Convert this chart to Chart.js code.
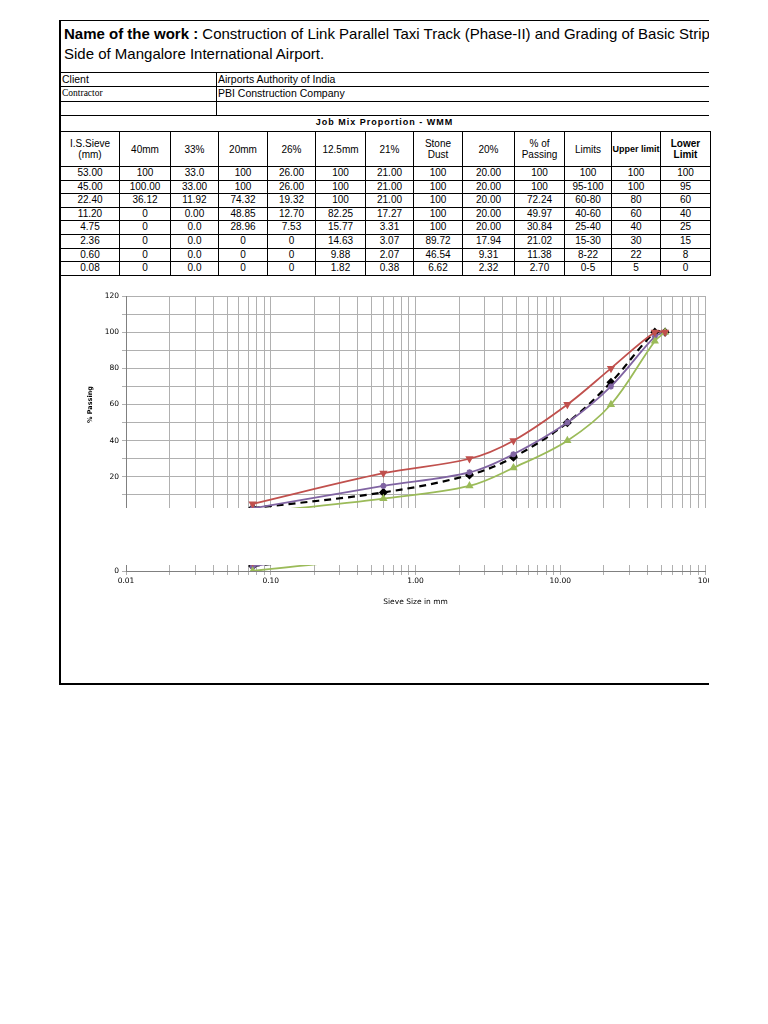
<!DOCTYPE html>
<html><head><meta charset="utf-8">
<script src="https://cdn.jsdelivr.net/npm/chart.js@4"></script>
<style>
body{margin:0;background:#fff;font-family:"Liberation Sans",Arial,sans-serif;}
#page{position:relative;width:768px;height:1024px;overflow:hidden;}
.abs{position:absolute;}
.vl{position:absolute;background:#000;width:1px;}
.hl{position:absolute;background:#000;height:1px;}
table{border-collapse:collapse;table-layout:fixed;font-size:10px;font-family:"Liberation Sans Narrow","Liberation Sans",Arial,sans-serif;}
td{border:1px solid #000;text-align:center;padding:0;line-height:12.6px;height:12.6px;white-space:nowrap;overflow:hidden;}
.clip{position:absolute;left:60px;width:649px;overflow:hidden;}
.clip canvas{position:absolute;left:0;}
</style></head><body>
<div id="page">
  <div class="vl" style="left:59px;top:20px;height:664px;width:2px"></div>
  <div class="hl" style="left:59px;top:683px;width:650px;height:2px"></div>
  <div class="hl" style="left:60px;top:20px;width:649px"></div>
  <div class="abs" style="left:64px;top:24px;font-size:15px;line-height:20px;white-space:nowrap;width:645px;overflow:hidden;">
    <b>Name of the work :</b> Construction of Link Parallel Taxi Track (Phase-II) and Grading of Basic Strip at South<br>Side of Mangalore International Airport.</div>
  <div class="hl" style="left:60px;top:72px;width:649px"></div>
  <div class="hl" style="left:60px;top:86px;width:649px"></div>
  <div class="hl" style="left:60px;top:101px;width:649px"></div>
  <div class="hl" style="left:60px;top:115px;width:649px"></div>
  <div class="vl" style="left:216px;top:72px;height:43px"></div>
  <div class="abs" style="left:62px;top:73px;font-size:10.5px">Client</div>
  <div class="abs" style="left:62px;top:88px;font-size:9.5px;font-family:'Liberation Serif',serif">Contractor</div>
  <div class="abs" style="left:218px;top:73px;font-size:10.5px">Airports Authority of India</div>
  <div class="abs" style="left:218px;top:87px;font-size:10.5px">PBI Construction Company</div>
  <div class="abs" style="left:60px;top:117px;width:649px;text-align:center;font-size:9px;font-weight:bold;letter-spacing:1px">Job Mix Proportion - WMM</div>
  <div class="hl" style="left:60px;top:131px;width:649px"></div>
  <table id="tbl" class="abs" style="left:60px;top:131px;width:650px"></table>
  <div class="clip" style="top:285px;height:223px"><canvas id="c1"></canvas></div>
  <div class="clip" style="top:565px;height:118px"><canvas id="c2"></canvas></div>
</div>
<script>
const headers = ['I.S.Sieve<br>(mm)','40mm','33%','20mm','26%','12.5mm','21%','Stone<br>Dust','20%','% of<br>Passing','Limits','<b style="font-size:9px">Upper limit</b>','<b>Lower<br>Limit</b>'];
const colW = [59,51,48,49,48,50,48,49,52,50,47,49,50];
const tableRows = [
  ['53.00','100','33.0','100','26.00','100','21.00','100','20.00','100','100','100','100'],
  ['45.00','100.00','33.00','100','26.00','100','21.00','100','20.00','100','95-100','100','95'],
  ['22.40','36.12','11.92','74.32','19.32','100','21.00','100','20.00','72.24','60-80','80','60'],
  ['11.20','0','0.00','48.85','12.70','82.25','17.27','100','20.00','49.97','40-60','60','40'],
  ['4.75','0','0.0','28.96','7.53','15.77','3.31','100','20.00','30.84','25-40','40','25'],
  ['2.36','0','0.0','0','0','14.63','3.07','89.72','17.94','21.02','15-30','30','15'],
  ['0.60','0','0.0','0','0','9.88','2.07','46.54','9.31','11.38','8-22','22','8'],
  ['0.08','0','0.0','0','0','1.82','0.38','6.62','2.32','2.70','0-5','5','0']
];
// chart data
const sieveSizes = [0.075, 0.6, 2.36, 4.75, 11.2, 22.4, 45, 53];
const upperLimit = [5, 22, 30, 40, 60, 80, 100, 100];
const lowerLimit = [0, 8, 15, 25, 40, 60, 95, 100];
const midLimit = [2.5, 15, 22.5, 32.5, 50, 70, 97.5, 100];
const passing = [2.7, 11.38, 21.02, 30.84, 49.97, 72.24, 100, 100];

const tbl = document.getElementById('tbl');
let html = '<colgroup>' + colW.map(w => '<col style="width:' + w + 'px">').join('') + '</colgroup>';
html += '<tr>' + headers.map(h => '<td style="height:34px;line-height:11px">' + h + '</td>').join('') + '</tr>';
tableRows.forEach(r => { html += '<tr>' + r.map(v => '<td>' + v + '</td>').join('') + '</tr>'; });
tbl.innerHTML = html;

function pts(ys){ return sieveSizes.map((x,i)=>({x:x,y:ys[i]})); }
function ds(data,color,style,dash,rot){
  return {data:pts(data),borderColor:color,backgroundColor:color,pointStyle:style,pointRotation:rot||0,
    pointRadius:3,borderWidth:dash?2.2:1.8,borderDash:dash||[],showLine:true,tension:0.35};
}
function makeChart(id){
  const cv = document.getElementById(id);
  cv.style.width='690px'; cv.style.height='300px';
  return new Chart(cv,{
    type:'scatter',
    data:{datasets:[
      ds(upperLimit,'#c0504d','triangle',null,180),
      ds(lowerLimit,'#9bbb59','triangle'),
      ds(midLimit,'#8064a2','star'),
      ds(passing,'#000000','rectRot',[7,5])
    ]},
    options:{responsive:false,animation:false,devicePixelRatio:1,
      layout:{padding:{top:11,right:45,left:22,bottom:32}},
      plugins:{legend:{display:false},tooltip:{enabled:false}},
      scales:{
        x:{type:'logarithmic',min:0.01,max:100,
          afterBuildTicks:s=>{const t=[];[0.01,0.1,1,10].forEach(d=>{for(let k=1;k<10;k++)t.push({value:d*k});});t.push({value:100});s.ticks=t;},
          afterFit:s=>{s.height=40;},
          ticks:{autoSkip:false,maxRotation:0,color:'#000',font:{size:7.5,family:'DejaVu Sans'},padding:2,
            callback:v=>{const m={0.01:'0.01',0.1:'0.10',1:'1.00',10:'10.00',100:'100'};const k=Object.keys(m).find(kk=>Math.abs(kk-v)<1e-9);return k?m[k]:'';}},
          grid:{color:'#b0b0b0',lineWidth:1,tickLength:4},border:{color:'#808080'},
          title:{display:true,text:'Sieve Size in mm',color:'#000',font:{size:7.5,family:'DejaVu Sans'},padding:{top:0}}},
        y:{min:0,max:120,
          afterFit:s=>{s.width=44;},
          ticks:{stepSize:10,color:'#000',font:{size:7.5,family:'DejaVu Sans'},callback:v=>v%20===0?v:''},
          grid:{color:'#b0b0b0',lineWidth:1,tickLength:4},border:{color:'#808080'},
          title:{display:true,text:'% Passing',color:'#000',font:{size:6.5,family:'DejaVu Sans',weight:'bold'},padding:{bottom:14}}}
      }
    }
  });
}
const c1 = makeChart('c1');
const c2 = makeChart('c2');
const offset2 = (285+58) - 565;
document.getElementById('c2').style.top = offset2 + 'px';
</script>
</body></html>
